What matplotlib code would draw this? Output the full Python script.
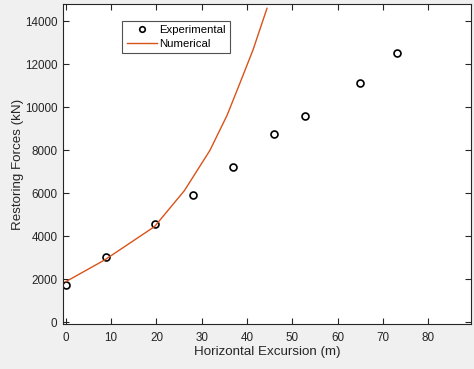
import matplotlib
matplotlib.use('Agg')
import matplotlib.pyplot as plt

# experimental points
exp_x = [0.0, 8.8, 19.7, 28.1, 37.0, 46.0, 52.7, 65.0, 73.1]
exp_y = [1740, 3060, 4580, 5910, 7230, 8730, 9590, 11100, 12510]

# numerical curve (polyline)
num_x = [0.0, 8.6, 19.6, 26.2, 31.8, 35.6, 38.4, 41.3, 44.4]
num_y = [1895, 2905, 4455, 6130, 7990, 9625, 11100, 12650, 14590]

x_ticks = [0, 10, 20, 30, 40, 50, 60, 70, 80]
y_ticks = [0, 2000, 4000, 6000, 8000, 10000, 12000, 14000]

plt.rcParams['font.family'] = ['Liberation Sans', 'DejaVu Sans']

W, H = 474, 369
fig = plt.figure(figsize=(W / 100, H / 100), dpi=100, facecolor='#f0f0f0')
ax = fig.add_axes([63 / W, 1 - 324 / H, (471 - 63) / W, (324 - 4) / H])

ax.plot(exp_x, exp_y, 'o', mfc='none', mec='black', mew=1.2, ms=5, label='Experimental')
ax.plot(num_x, num_y, '-', color='#d95319', lw=1.0, label='Numerical')

ax.set_xlim(-0.6, 89.4)
ax.set_ylim(-70, 14790)
ax.set_xticks(x_ticks)
ax.set_yticks(y_ticks)
ax.tick_params(direction='in', top=True, right=True, length=4, width=0.8,
               colors='#262626', labelsize=8.4, labelcolor='#262626')
ax.tick_params(axis='x', pad=6)
ax.tick_params(axis='y', pad=4)
for s in ax.spines.values():
    s.set_color('#262626')
    s.set_linewidth(0.8)

ax.set_xlabel('Horizontal Excursion (m)', fontsize=9.6, color='#262626')
ax.set_ylabel('Restoring Forces (kN)', fontsize=9.6, color='#262626')
ax.xaxis.set_label_coords(0.5, (324 - 346) / 320)
ax.yaxis.set_label_coords((24 - 63) / 408, 0.5)

leg = ax.legend(loc='upper left', bbox_to_anchor=(0.145, 0.948), fontsize=8.2,
                frameon=True, fancybox=False, edgecolor='#262626',
                borderpad=0.4, handlelength=2.7, handletextpad=0.15,
                labelspacing=0.3, borderaxespad=0, markerscale=0.8)
leg.get_frame().set_linewidth(0.8)

fig.savefig('out.png', dpi=100, facecolor=fig.get_facecolor())
